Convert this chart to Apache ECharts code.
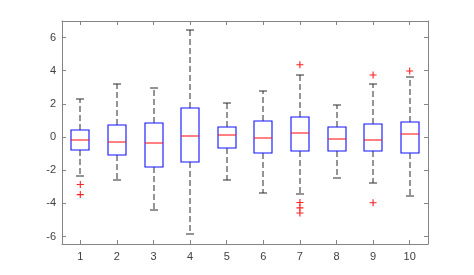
<!DOCTYPE html>
<html>
<head>
<meta charset="utf-8">
<script src="https://cdn.jsdelivr.net/npm/echarts@6/dist/echarts.min.js"></script>
<style>html,body{margin:0;padding:0;background:#fff}#c{width:474px;height:275px}</style>
</head>
<body>
<div id="c"></div>
<script>
const categories = ['1','2','3','4','5','6','7','8','9','10'];
const lowerWhisker = [-2.34, -2.56, -4.42, -5.85, -2.56, -3.39, -3.45, -2.48, -2.79, -3.58];
const q1           = [-0.79, -1.07, -1.79, -1.52, -0.68, -0.99, -0.82, -0.82, -0.87, -0.95];
const median       = [-0.18, -0.28, -0.38,  0.08,  0.10, -0.04,  0.22, -0.10, -0.16,  0.18];
const q3           = [ 0.42,  0.73,  0.85,  1.74,  0.59,  0.99,  1.18,  0.61,  0.79,  0.91];
const upperWhisker = [ 2.27,  3.19,  2.93,  6.48,  2.08,  2.77,  3.74,  1.96,  3.19,  3.62];
const outlierCategory = [0, 0, 6, 6, 6, 6, 8, 8, 9];
const outlierValue    = [-2.86, -3.47, 4.36, -3.95, -4.27, -4.58, 3.74, -3.96, 3.98];
const yTickLabels = [-6, -4, -2, 0, 2, 4, 6];

const boxData = categories.map((c, i) => [i, lowerWhisker[i], q1[i], median[i], q3[i], upperWhisker[i]]);
const outlierData = outlierCategory.map((c, i) => [c, outlierValue[i]]);

const axisGray = '#858585';
const labelColor = '#404040';
const font = 'Liberation Sans, Arial, sans-serif';

function geom(api) {
  const x = api.value(0);
  const g = {};
  g.cx = Math.round(api.coord([x, api.value(3)])[0]);
  g.yLow = Math.round(api.coord([x, api.value(1)])[1]);
  g.yQ1 = Math.round(api.coord([x, api.value(2)])[1]);
  g.yMed = Math.round(api.coord([x, api.value(3)])[1]);
  g.yQ3 = Math.round(api.coord([x, api.value(4)])[1]);
  g.yHigh = Math.round(api.coord([x, api.value(5)])[1]);
  g.bw = Math.round(api.size([1, 0])[0] * 0.5);
  g.left = Math.round(g.cx - g.bw / 2);
  return g;
}

function renderWhiskers(params, api) {
  const g = geom(api);
  const cap = 4;
  return {
    type: 'group',
    children: [
      {type: 'line', shape: {x1: g.cx, y1: g.yQ3, x2: g.cx, y2: g.yHigh},
        style: {stroke: '#2a2a2a', lineWidth: 1, lineDash: [6, 3]}},
      {type: 'line', shape: {x1: g.cx, y1: g.yQ1, x2: g.cx, y2: g.yLow},
        style: {stroke: '#2a2a2a', lineWidth: 1, lineDash: [6, 3]}},
      {type: 'line', shape: {x1: g.cx - cap, y1: g.yHigh, x2: g.cx + cap, y2: g.yHigh},
        style: {stroke: '#2a2a2a', lineWidth: 1}},
      {type: 'line', shape: {x1: g.cx - cap, y1: g.yLow, x2: g.cx + cap, y2: g.yLow},
        style: {stroke: '#2a2a2a', lineWidth: 1}}
    ]
  };
}

function renderBoxes(params, api) {
  const g = geom(api);
  const l = g.left, r = g.left + g.bw;
  return {
    type: 'group',
    children: [
      {type: 'polygon', shape: {points: [[l, g.yQ3], [r, g.yQ3], [r, g.yQ1], [l, g.yQ1]]},
        style: {fill: '#ffffff', stroke: '#1010ff', lineWidth: 1.1}},
      {type: 'line', shape: {x1: l, y1: g.yMed, x2: r, y2: g.yMed},
        style: {stroke: '#ff1a1a', lineWidth: 1.1}}
    ]
  };
}

const chart = echarts.init(document.getElementById('c'), null, {renderer: 'canvas'});
const catAxisBase = {
  type: 'category',
  data: categories,
  boundaryGap: true,
  axisLine: {show: true, onZero: false, lineStyle: {color: axisGray, width: 1}},
  axisTick: {show: true, inside: true, alignWithLabel: true, length: 4, lineStyle: {color: axisGray}},
  splitLine: {show: false}
};
const valAxisBase = {
  type: 'value',
  min: -6.45,
  max: 7,
  splitNumber: 7,
  axisLine: {show: true, onZero: false, lineStyle: {color: axisGray, width: 1}},
  axisTick: {show: true, inside: true, length: 4, lineStyle: {color: axisGray}},
  splitLine: {show: false}
};
chart.setOption({
  animation: false,
  backgroundColor: '#fff',
  grid: {left: 62, right: 46, top: 21, bottom: 31, containLabel: false},
  xAxis: [
    Object.assign({}, catAxisBase, {position: 'bottom',
      axisLabel: {show: true, color: labelColor, fontSize: 11, fontFamily: font, margin: 7}}),
    Object.assign({}, catAxisBase, {position: 'top', axisLabel: {show: false}})
  ],
  yAxis: [
    Object.assign({}, valAxisBase, {position: 'left',
      axisLabel: {show: true, color: labelColor, fontSize: 11, fontFamily: font, margin: 6,
        formatter: v => (yTickLabels.indexOf(Math.round(v * 1000) / 1000) >= 0 ? String(v) : '')}}),
    Object.assign({}, valAxisBase, {position: 'right', axisLabel: {show: false}})
  ],
  series: [
    {type: 'custom', xAxisIndex: 0, yAxisIndex: 0, renderItem: renderWhiskers, data: boxData,
      encode: {x: 0, y: [1, 2, 3, 4, 5]}, clip: false, silent: true, z: 2},
    {type: 'custom', xAxisIndex: 0, yAxisIndex: 0, renderItem: renderBoxes, data: boxData,
      encode: {x: 0, y: [1, 2, 3, 4, 5]}, clip: false, silent: true, z: 3},
    {type: 'scatter', xAxisIndex: 0, yAxisIndex: 0, data: outlierData, silent: true, z: 4,
      symbol: 'path://M5,0 L5,10 M0,5 L10,5', symbolSize: 7,
      itemStyle: {color: 'none', borderColor: '#ff2020', borderWidth: 1.1, opacity: 1}}
  ]
});
</script>
</body>
</html>
